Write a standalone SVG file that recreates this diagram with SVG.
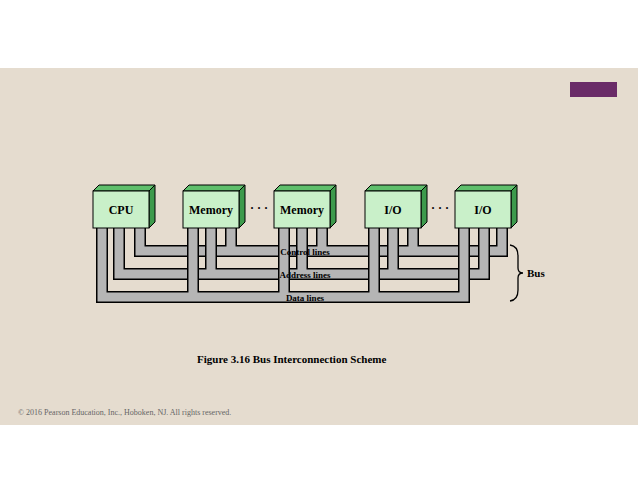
<svg xmlns="http://www.w3.org/2000/svg" width="638" height="493" viewBox="0 0 638 493">
<defs><style>
.f{fill:#c9f0c9;stroke:#000;stroke-width:1}
.t{fill:#5fbf6c;stroke:#000;stroke-width:1}
.s{fill:#3d9a4c;stroke:#000;stroke-width:1}
.lbl{font-family:"Liberation Serif",serif;font-weight:bold;font-size:12px;text-anchor:middle}
.bo{fill:none;stroke:#000;stroke-width:12;stroke-linejoin:miter;stroke-linecap:butt}
.bi{fill:none;stroke:#b5b5b5;stroke-width:9;stroke-linejoin:miter;stroke-linecap:butt}
.bl{font-family:"Liberation Serif",serif;font-weight:bold;font-size:9px;text-anchor:middle}
</style></defs>
<rect width="638" height="493" fill="#fff"/>
<rect x="0" y="68" width="638" height="357" fill="#e5dccf"/>
<rect x="570" y="82" width="47" height="15" fill="#6a2b68"/>
<g id="connectors">
<path id="control" class="bo" d="M140 228V251H502V228M231 228V251M322 228V251M413 228V251"/>
<path class="bi" d="M140 228V251H502V228M231 228V251M322 228V251M413 228V251"/>
<path id="address" class="bo" d="M119 228V274H484V228M211 228V274M302 228V274M393 228V274"/>
<path class="bi" d="M119 228V274H484V228M211 228V274M302 228V274M393 228V274"/>
<path id="data" class="bo" d="M102 228V297H464V228M193 228V297M284 228V297M374 228V297"/>
<path class="bi" d="M102 228V297H464V228M193 228V297M284 228V297M374 228V297"/>
<text class="bl" x="305" y="254.5">Control lines</text>
<text class="bl" x="305" y="277.5">Address lines</text>
<text class="bl" x="305" y="300.5">Data lines</text>
<path d="M510 245Q518 246 518 256V268Q518 273 523 273Q518 273 518 278V290Q518 300 510 301" fill="none" stroke="#000" stroke-width="1.3"/>
<text x="527" y="277" font-family="Liberation Serif,serif" font-weight="bold" font-size="11">Bus</text>
</g>
<g id="cpu"><path class="t" d="M93 191l6-6h56l-6 6z"/><path class="s" d="M149 191l6-6v37l-6 6z"/><rect class="f" x="93" y="191" width="56" height="37"/><text class="lbl" x="121" y="214">CPU</text></g>
<g id="mem1"><path class="t" d="M183 191l6-6h56l-6 6z"/><path class="s" d="M239 191l6-6v37l-6 6z"/><rect class="f" x="183" y="191" width="56" height="37"/><text class="lbl" x="211" y="214">Memory</text></g>
<g id="mem2"><path class="t" d="M274 191l6-6h56l-6 6z"/><path class="s" d="M330 191l6-6v37l-6 6z"/><rect class="f" x="274" y="191" width="56" height="37"/><text class="lbl" x="302" y="214">Memory</text></g>
<g id="io1"><path class="t" d="M365 191l6-6h56l-6 6z"/><path class="s" d="M421 191l6-6v37l-6 6z"/><rect class="f" x="365" y="191" width="56" height="37"/><text class="lbl" x="393" y="214">I/O</text></g>
<g id="io2"><path class="t" d="M455 191l6-6h56l-6 6z"/><path class="s" d="M511 191l6-6v37l-6 6z"/><rect class="f" x="455" y="191" width="56" height="37"/><text class="lbl" x="483" y="214">I/O</text></g>
<text class="lbl" x="259" y="212">· · ·</text>
<text class="lbl" x="440" y="212">· · ·</text>
<text x="197" y="363" font-family="Liberation Serif,serif" font-weight="bold" font-size="11">Figure 3.16  Bus Interconnection Scheme</text>
<text x="18" y="415" font-family="Liberation Serif,serif" font-size="8" fill="#666">© 2016 Pearson Education, Inc., Hoboken, NJ. All rights reserved.</text>
</svg>
